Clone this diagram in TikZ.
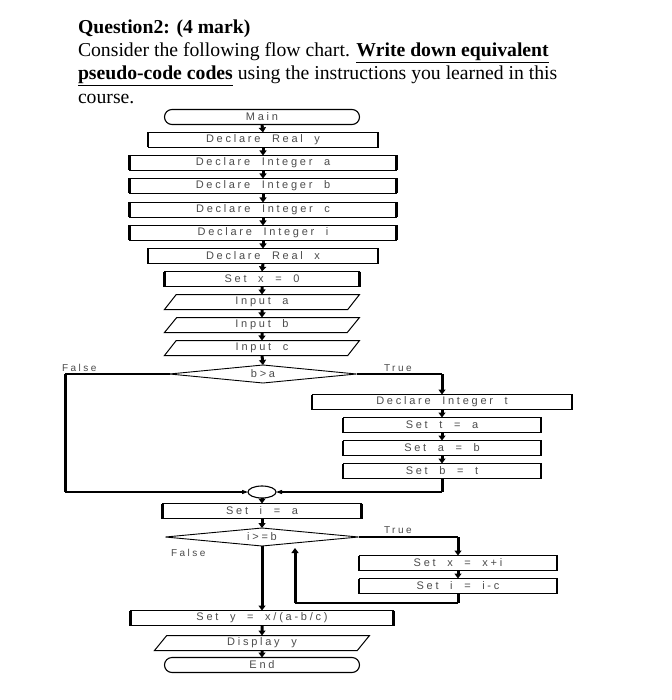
\documentclass[tikz,border=0pt]{standalone}
\usepackage{fontspec}
\setmainfont{Liberation Serif}
\newfontfamily\boxfont[LetterSpace=25,WordSpace=2]{Liberation Sans}
\usetikzlibrary{shapes.geometric,arrows.meta}
\begin{document}
\begin{tikzpicture}[x=1pt,y=-1pt,
  every node/.style={inner sep=0pt,outer sep=0pt},
  lbl/.style={font=\boxfont\fontsize{11}{11}\selectfont,text=black!70},
  proc/.style={lbl,draw,line width=1pt,minimum height=15pt},
  term/.style={lbl,draw,line width=1.1pt,rounded corners=7.5pt,minimum height=15pt,minimum width=195pt},
  io/.style={lbl,draw,line width=1pt,trapezium,trapezium left angle=40,trapezium right angle=140,minimum height=15pt,trapezium stretches body},
  dec/.style={lbl,draw,line width=0.9pt,diamond,minimum height=18pt,shape aspect=9},
  flow/.style={line width=3pt,-{Triangle[length=5pt,width=7pt]}},
  plain/.style={line width=3pt},
  thin/.style={line width=1.1pt},
  tf/.style={font=\boxfont\fontsize{10}{10}\selectfont,text=black!70}]
\useasboundingbox (0,0) rectangle (671,700);
\fill[white] (0,0) rectangle (671,700);
% header
\node[anchor=base west,font=\fontsize{19.7}{24}\selectfont\bfseries] (q) at (78,34) {Question2: (4 mark)};
\node[anchor=base west,font=\fontsize{19.7}{24}\selectfont] (l1) at (78,57) {Consider the following flow chart. \underline{\textbf{Write down equivalent}}};
\node[anchor=base west,font=\fontsize{19.7}{24}\selectfont] (l2) at (78,80) {\underline{\textbf{pseudo-code codes}} using the instructions you learned in this};
\node[anchor=base west,font=\fontsize{19.7}{24}\selectfont] (l3) at (78,104) {course.};
% main column
\node[term] (main) at (262,117) {Main};
\node[proc,minimum width=230pt] (dry) at (263,140) {Declare Real y};
\node[proc,minimum width=267pt] (dia) at (263,163) {Declare Integer a};
\node[proc,minimum width=267pt] (dib) at (263,186) {Declare Integer b};
\node[proc,minimum width=267pt] (dic) at (263,210) {Declare Integer c};
\node[proc,minimum width=267pt] (dii) at (263,233) {Declare Integer i};
\node[proc,minimum width=230pt] (drx) at (263,256) {Declare Real x};
\node[proc,minimum width=195pt] (sx0) at (262,279) {Set x = 0};
\node[io,minimum width=195pt] (ina) at (262,302) {Input a};
\node[io,minimum width=195pt] (inb) at (262,325) {Input b};
\node[io,minimum width=195pt] (inc) at (262,348) {Input c};
\node[dec,minimum width=187pt] (d1) at (263,374) {b>a};
\node[proc,minimum width=260pt] (dit) at (442,402) {Declare Integer t};
\node[proc,minimum width=198pt] (sta) at (442,425) {Set t = a};
\node[proc,minimum width=198pt] (sab) at (442,448) {Set a = b};
\node[proc,minimum width=198pt] (sbt) at (442,471) {Set b = t};
\node[draw,thin,ellipse,minimum width=28pt,minimum height=12pt] (j) at (262,492) {};
\node[proc,minimum width=199pt] (sia) at (262,511) {Set i = a};
\node[dec,minimum width=193pt] (d2) at (262,537) {i>=b};
\node[proc,minimum width=198pt] (sxx) at (458,563) {Set x = x+i};
\node[proc,minimum width=198pt] (sic) at (458,586) {Set i = i-c};
\node[proc,minimum width=263pt] (sy) at (262,618) {Set y = x/(a-b/c)};
\node[io,minimum width=215pt] (dy) at (262,643) {Display y};
\node[term] (end) at (262,665) {End};
% thick sides of process boxes
\foreach \n in {dry,dia,dib,dic,dii,drx,sx0,dit,sta,sab,sbt,sia,sxx,sic,sy}
  \draw[line width=2.2pt] (\n.north west)--(\n.south west) (\n.north east)--(\n.south east);
% labels
\node[tf,anchor=west] (f1) at (62,368) {False};
\node[tf,anchor=west] (t1) at (384,368) {True};
\node[tf,anchor=west] (t2) at (384,530) {True};
\node[tf,anchor=west] (f2) at (171,553) {False};
% connectors
\foreach \a/\b in {main/dry,dry/dia,dia/dib,dib/dic,dic/dii,dii/drx,drx/sx0,sx0/ina,ina/inb,inb/inc,inc/d1,dit/sta,sta/sab,sab/sbt,j/sia,sia/d2,sxx/sic,d2/sy,sy/dy,dy/end}
  \draw[flow] (\a.south) -- (\b.north);
\coordinate (c1) at (442,374);
\draw[thin] (d1.east) -- (c1);
\draw[flow] (c1) -- (dit.north);
\coordinate (c2) at (65,374);
\coordinate (c3) at (65,492);
\draw[thin] (d1.west) -- (c2);
\draw[plain] (c2) -- (c3);
\draw[thin,-{Triangle[length=6pt,width=4pt]}] (c3) -- (j.west);
\coordinate (c4) at (442,492);
\draw[plain] (sbt.south) -- (c4);
\draw[thin,-{Triangle[length=6pt,width=4pt]}] (c4) -- (j.east);
\coordinate (c5) at (458,537);
\draw[thin] (d2.east) -- (c5);
\draw[flow] (c5) -- (sxx.north);
\coordinate (c6) at (458,603);
\coordinate (c7) at (295,603);
\coordinate (c8) at (295,548);
\draw[plain] (sic.south) -- (c6);
\draw[thin] (c6) -- (c7);
\draw[flow] (c7) -- (c8);
\end{tikzpicture}
\end{document}
